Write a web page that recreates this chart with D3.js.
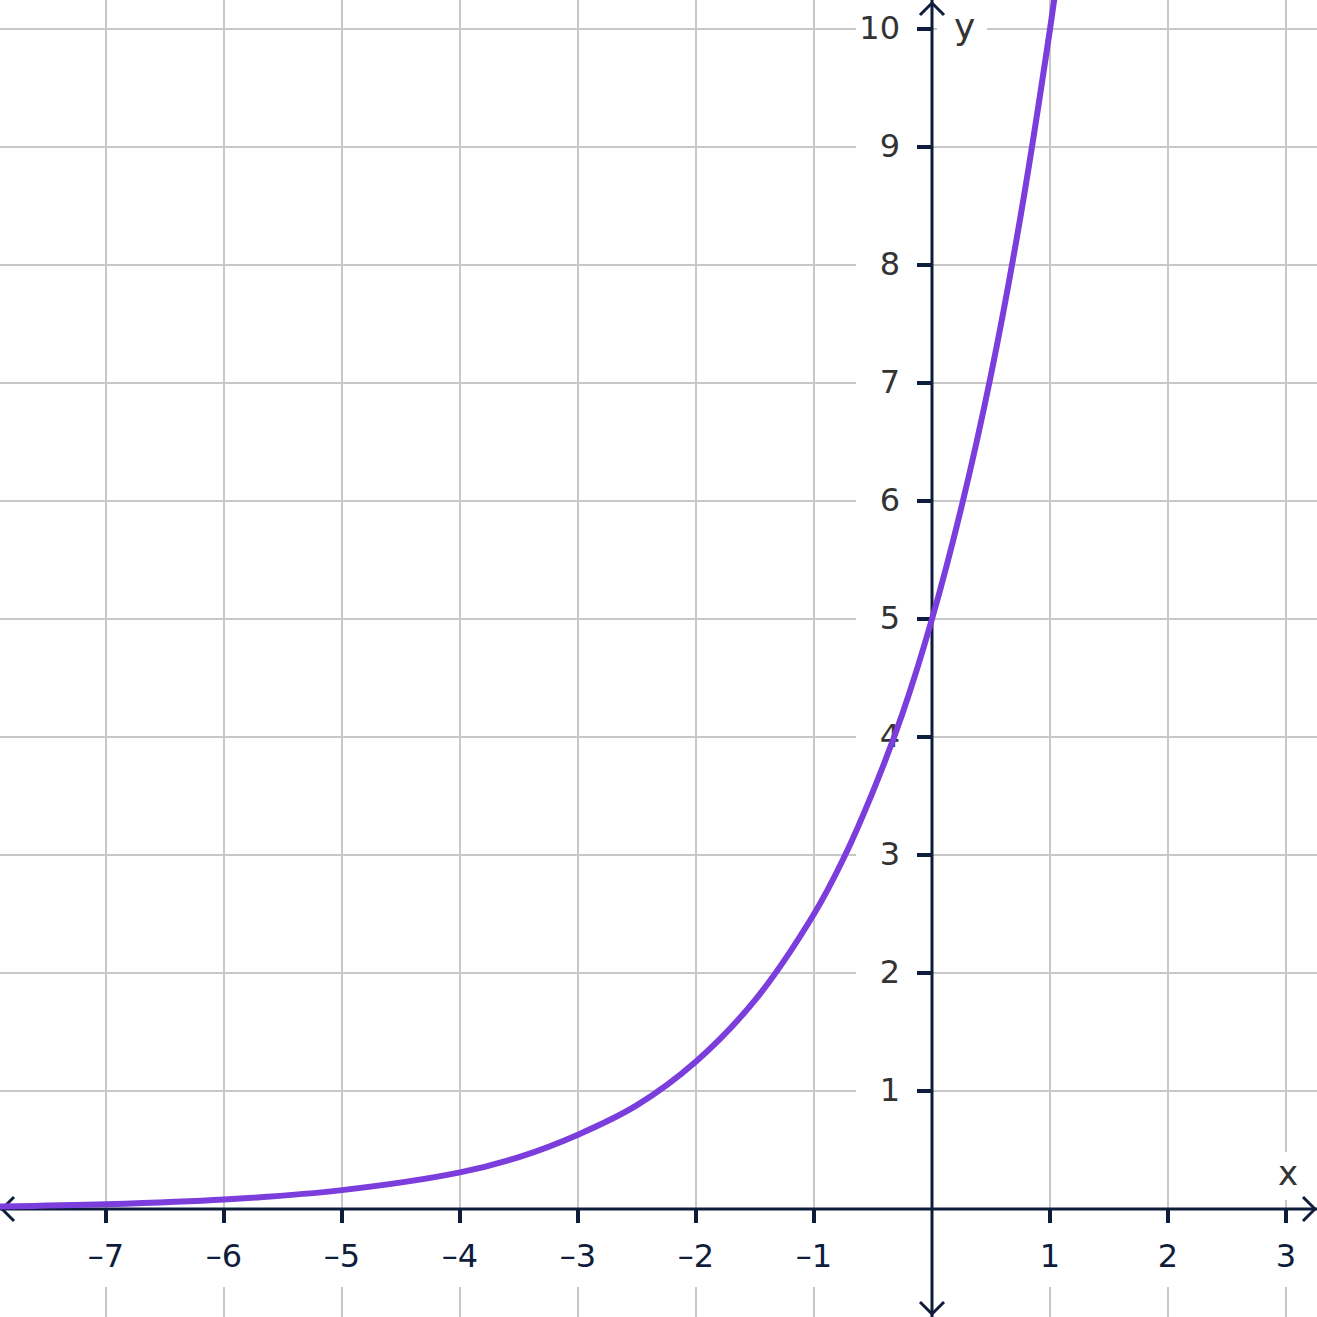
<!DOCTYPE html>
<html>

<head>
    <meta charset="utf-8">
    <script src="https://d3js.org/d3.v7.min.js"></script>
    <style>
        body { margin: 0; background: #fff; }
        svg { display: block; }
    </style>
    <script>
        // values
        let xTicks = [-7, -6, -5, -4, -3, -2, -1, 1, 2, 3];
        let xTickLabels = ['\u20137', '\u20136', '\u20135', '\u20134', '\u20133', '\u20132', '\u20131', '1', '2', '3'];
        let yTicks = [1, 2, 3, 4, 5, 6, 7, 8, 9, 10];
        let yTickLabels = ['1', '2', '3', '4', '5', '6', '7', '8', '9', '10'];

        // curve points
        let curveX = [-8, -7, -6, -5, -4, -3.5, -3, -2.5, -2, -1.5, -1, -0.75, -0.5, -0.25, 0, 0.25, 0.5, 0.75, 1, 1.1];
        let curveY = [0.02, 0.04, 0.08, 0.16, 0.31, 0.44, 0.63, 0.88, 1.25, 1.77, 2.5, 2.97, 3.54, 4.2, 5, 5.95, 7.07, 8.41, 10, 10.72];

        function draw() {
            let width = 1317;
            let height = 1317;
            let navy = '#0f1d3d';
            let grey = '#c8c8c8';
            let purple = '#7b3ddb';
            let font = '"DejaVu Sans", sans-serif';

            let svg = d3.select('body').append('svg')
                .attr('width', width)
                .attr('height', height);

            // x = 0 sits at 932px, one unit is 118px
            let x_scale = d3.scaleLinear().domain([0, 1]).range([932, 1050]);
            let y_scale = d3.scaleLinear().domain([0, 1]).range([1209, 1091]);
            let x0 = x_scale(0), y0 = y_scale(0);

            svg.append('defs').append('clipPath').attr('id', 'clip')
                .append('rect').attr('width', width).attr('height', height);

            // grid
            svg.append('g').selectAll('line').data(xTicks).enter().append('line')
                .attr('x1', d => x_scale(d)).attr('x2', d => x_scale(d))
                .attr('y1', 0).attr('y2', height)
                .attr('stroke', grey).attr('stroke-width', 2);
            svg.append('g').selectAll('line').data(yTicks).enter().append('line')
                .attr('y1', d => y_scale(d)).attr('y2', d => y_scale(d))
                .attr('x1', 0).attr('x2', width)
                .attr('stroke', grey).attr('stroke-width', 2);

            // white boxes behind the tick labels
            svg.append('g').selectAll('rect').data(xTicks).enter().append('rect')
                .attr('x', d => x_scale(d) - 30).attr('y', y0 + 14)
                .attr('width', 60).attr('height', 64)
                .attr('fill', '#fff');
            svg.append('g').selectAll('rect').data(yTicks).enter().append('rect')
                .attr('x', x0 - 76).attr('y', d => y_scale(d) - 20)
                .attr('width', 61).attr('height', 40)
                .attr('fill', '#fff');
            // boxes for axis names
            svg.append('rect').attr('x', x_scale(3) - 22).attr('y', y0 - 57)
                .attr('width', 44).attr('height', 48).attr('fill', '#fff');
            svg.append('rect').attr('x', x0 + 5).attr('y', y_scale(10) - 22)
                .attr('width', 50).attr('height', 44).attr('fill', '#fff');

            // tick labels
            svg.append('g').selectAll('text').data(xTicks).enter().append('text')
                .attr('x', d => x_scale(d)).attr('y', y0 + 58)
                .attr('text-anchor', 'middle')
                .attr('font-family', font).attr('font-size', 32)
                .attr('fill', navy)
                .text((d, i) => xTickLabels[i]);
            svg.append('g').selectAll('text').data(yTicks).enter().append('text')
                .attr('x', x0 - 32).attr('y', d => y_scale(d))
                .attr('dy', '0.3em')
                .attr('text-anchor', 'end')
                .attr('font-family', font).attr('font-size', 32)
                .attr('fill', '#333')
                .text((d, i) => yTickLabels[i]);

            svg.append('text').attr('x', x_scale(3) + 2).attr('y', y0 - 24)
                .attr('text-anchor', 'middle')
                .attr('font-family', font).attr('font-size', 34).attr('fill', '#333')
                .text('x');
            svg.append('text').attr('x', x0 + 22).attr('y', y_scale(10) + 10)
                .attr('font-family', font).attr('font-size', 36).attr('fill', '#333')
                .text('y');

            // axes
            let ax = svg.append('g').attr('stroke', navy).attr('fill', 'none')
                .attr('stroke-width', 3);
            ax.append('line').attr('x1', 0).attr('x2', width).attr('y1', y0).attr('y2', y0);
            ax.append('line').attr('x1', x0).attr('x2', x0).attr('y1', 0).attr('y2', height);
            ax.append('path').attr('d', `M${width - 14},${y0 - 12}L${width - 2},${y0}L${width - 14},${y0 + 12}`);
            ax.append('path').attr('d', `M14,${y0 - 12}L2,${y0}L14,${y0 + 12}`);
            ax.append('path').attr('d', `M${x0 - 12},15L${x0},3L${x0 + 12},15`);
            ax.append('path').attr('d', `M${x0 - 12},${height - 15}L${x0},${height - 3}L${x0 + 12},${height - 15}`);

            ax.append('g').selectAll('line').data(xTicks).enter().append('line')
                .attr('x1', d => x_scale(d)).attr('x2', d => x_scale(d))
                .attr('y1', y0).attr('y2', y0 + 14)
                .attr('stroke-width', 4);
            ax.append('g').selectAll('line').data(yTicks).enter().append('line')
                .attr('y1', d => y_scale(d)).attr('y2', d => y_scale(d))
                .attr('x1', x0 - 15).attr('x2', x0)
                .attr('stroke-width', 4);

            // curve
            let pts = curveX.map((v, i) => [v, curveY[i]]);
            let line = d3.line()
                .x(d => x_scale(d[0]))
                .y(d => y_scale(d[1]))
                .curve(d3.curveCatmullRom.alpha(0.5));
            svg.append('path')
                .datum(pts)
                .attr('clip-path', 'url(#clip)')
                .attr('d', line)
                .attr('fill', 'none')
                .attr('stroke', purple)
                .attr('stroke-width', 6)
                .attr('stroke-linecap', 'round');
        }
    </script>
</head>

<body>
    <script>
        draw();
    </script>
</body>

</html>
